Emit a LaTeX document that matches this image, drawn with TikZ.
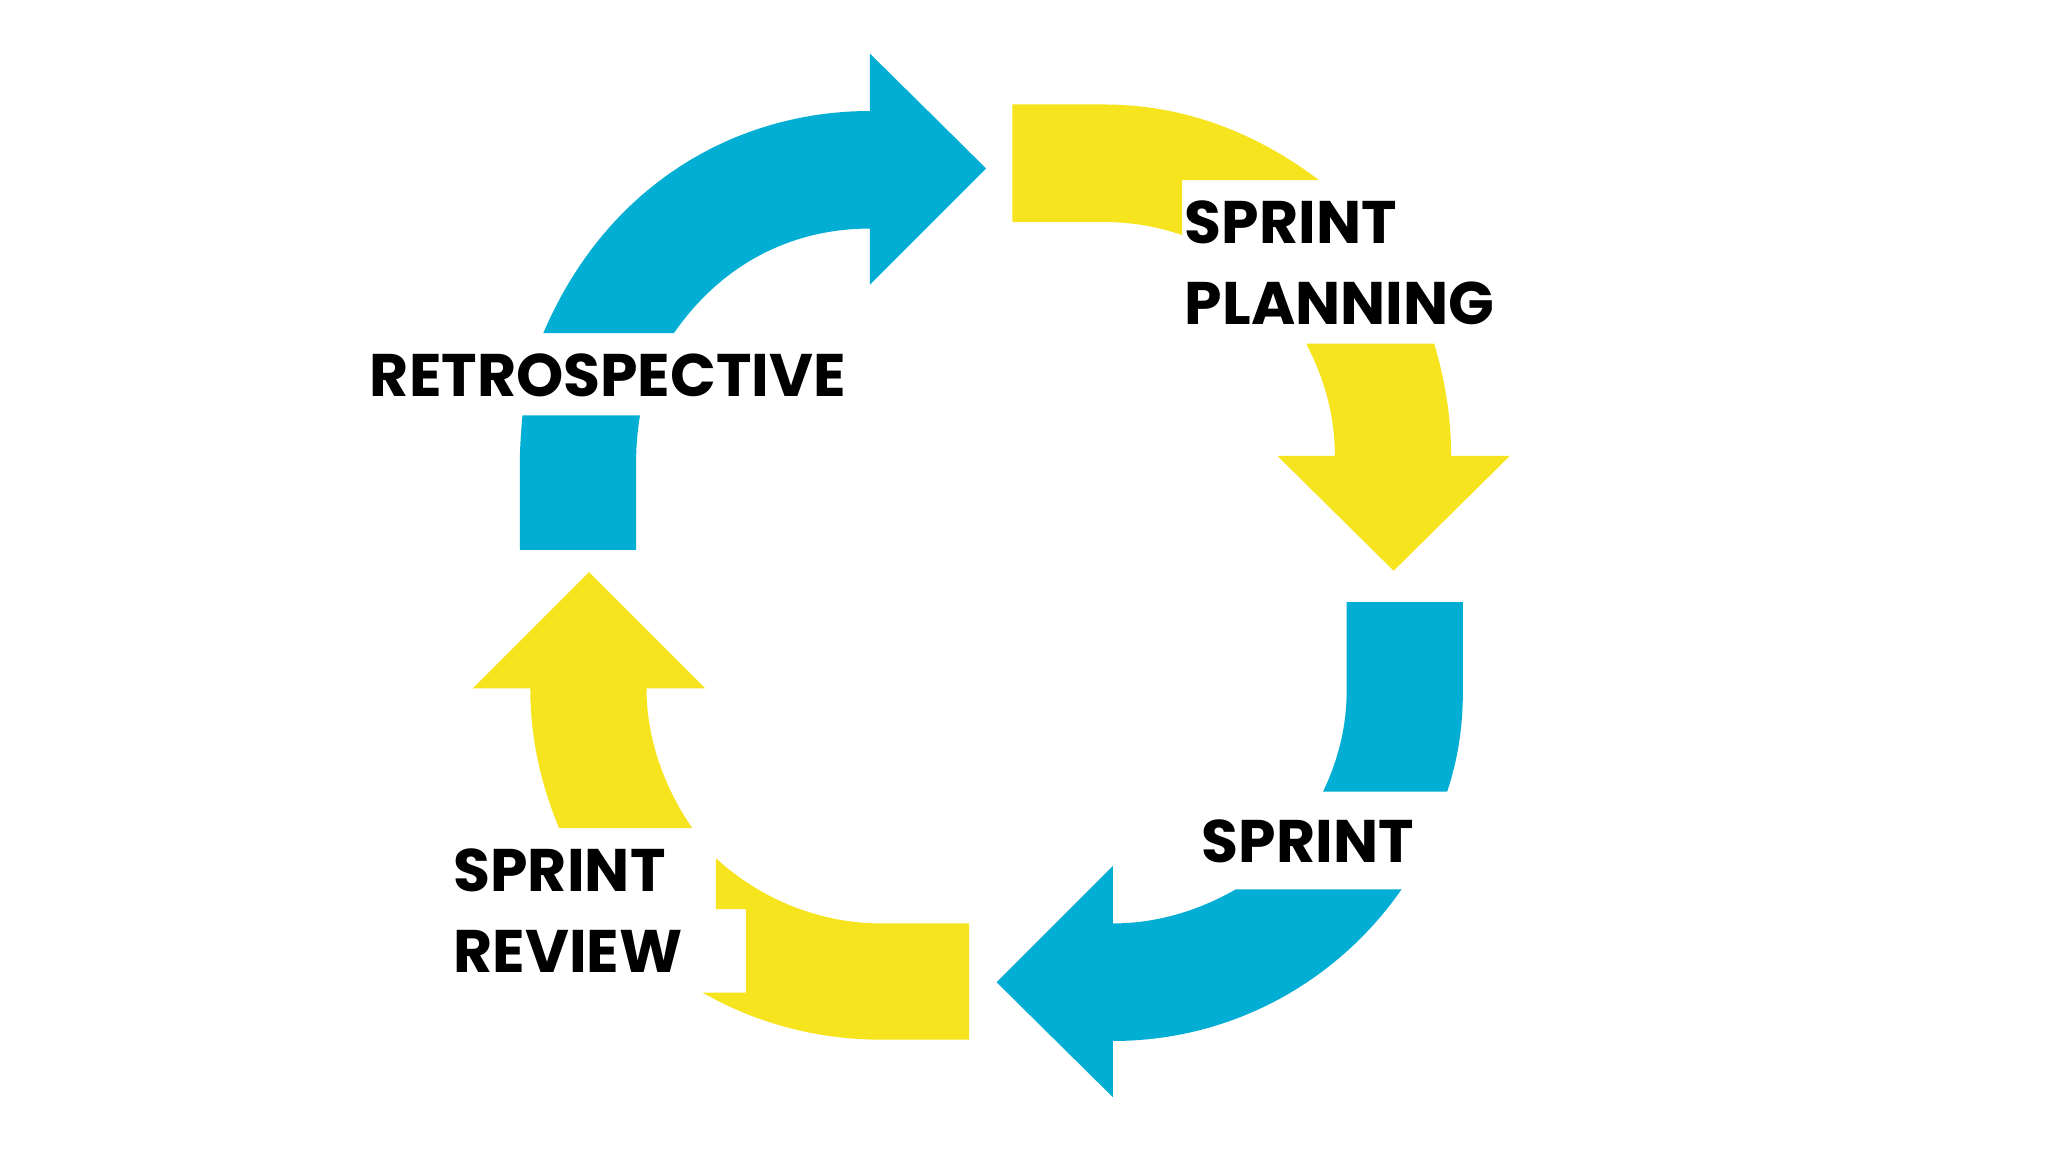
\documentclass[tikz,border=0pt]{standalone}
\usepackage{fontspec}
\setmainfont{Poppins}
\definecolor{cblue}{HTML}{02AED3}
\definecolor{cyel}{HTML}{F6E51E}
\begin{document}
\begin{tikzpicture}[x=1pt,y=-1pt,
  lab/.style={font=\fontsize{46}{62}\selectfont\bfseries,text=black,align=left,inner sep=0pt}]
\useasboundingbox (0,0) rectangle (1568,882);
\fill[white] (0,0) rectangle (1568,882);
% top-left blue arrow
\fill[cblue] (416,255) .. controls (465,140) and (565,85) .. (666,85) -- (666,41) -- (755,129) -- (666,218) -- (666,175) .. controls (605,175) and (552,203) .. (516,255) -- cycle;
\fill[cblue] (400,318) -- (490,318) .. controls (488,330) and (487,342) .. (487,355) -- (487,421) -- (398,421) -- (398,355) .. controls (398,342) and (399,330) .. (400,318) -- cycle;
% top-right yellow
\fill[cyel] (775,80) -- (845,80) .. controls (910,80) and (965,104) .. (1010,138) -- (905,138) -- (905,180) .. controls (885,173) and (865,170) .. (845,170) -- (775,170) -- cycle;
\fill[cyel] (1098,263) .. controls (1106,290) and (1111,318) .. (1111,349) -- (1156,349) -- (1067,437) -- (978,349) -- (1022,349) .. controls (1022,318) and (1014,290) .. (1000,263) -- cycle;
% right blue
\fill[cblue] (1031,461) -- (1120,461) -- (1120,530) .. controls (1120,557) and (1116,582) .. (1108,606) -- (1013,606) .. controls (1024,583) and (1031,557) .. (1031,530) -- cycle;
\fill[cblue] (1073,681) .. controls (1025,750) and (945,797) .. (852,797) -- (852,840) -- (763,752) -- (852,663) -- (852,707) .. controls (886,707) and (918,697) .. (946,681) -- cycle;
% bottom yellow
\fill[cyel] (675,707) -- (742,707) -- (742,796) -- (675,796) .. controls (625,796) and (578,783) .. (538,760) -- (571,760) -- (571,696) -- (548,696) -- (548,657) .. controls (583,689) and (628,707) .. (675,707) -- cycle;
\fill[cyel] (428,634) .. controls (414,600) and (406,565) .. (406,527) -- (362,527) -- (451,438) -- (540,527) -- (495,527) .. controls (495,565) and (508,602) .. (530,634) -- cycle;
% labels
\node[lab,anchor=west] (retro) at (283,287) {RETROSPECTIVE};
\node[lab,anchor=west] (plan) at (907,201) {SPRINT\\PLANNING};
\node[lab,anchor=west] (sprint) at (920,644) {SPRINT};
\node[lab,anchor=west] (review) at (347,697) {SPRINT\\REVIEW};
\end{tikzpicture}
\end{document}
